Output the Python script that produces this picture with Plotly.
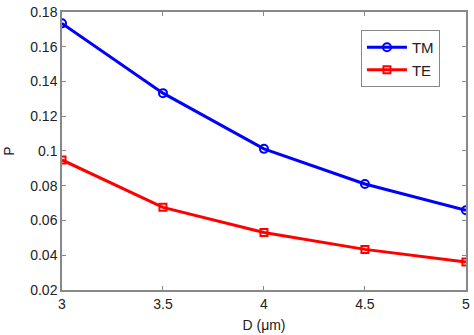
import plotly.graph_objects as go

D = [3, 3.5, 4, 4.5, 5]
TM = [0.1735, 0.1333, 0.1012, 0.0810, 0.0658]
TE = [0.0948, 0.0675, 0.0530, 0.0433, 0.0360]
xticks = [3, 3.5, 4, 4.5, 5]
yticks = [0.02, 0.04, 0.06, 0.08, 0.1, 0.12, 0.14, 0.16, 0.18]
ytext = ["0.02", "0.04", "0.06", "0.08", "0.1", "0.12", "0.14", "0.16", "0.18"]

fig = go.Figure()
fig.add_trace(go.Scatter(x=D, y=TM, name="TM", mode="lines+markers",
                         line=dict(color="#0000ff", width=3),
                         marker=dict(symbol="circle-open", size=8, color="#0000ff", line=dict(width=2))))
fig.add_trace(go.Scatter(x=D, y=TE, name="TE", mode="lines+markers",
                         line=dict(color="#ff0000", width=3),
                         marker=dict(symbol="square-open", size=7, color="#ff0000", line=dict(width=2))))

axis_common = dict(showgrid=False, zeroline=False, showline=True, linecolor="#888888", linewidth=1.5,
                   mirror="ticks", ticks="inside", ticklen=4, tickcolor="#888888",
                   tickfont=dict(family="Liberation Sans, Arial", size=14, color="#222222"))
fig.update_xaxes(range=[3, 5.0005], tickvals=xticks, ticktext=[str(v) for v in xticks],
                 title=dict(text="D (μm)", font=dict(family="Liberation Sans, Arial", size=14, color="#222222"), standoff=10),
                 **axis_common)
fig.update_yaxes(range=[0.0199, 0.18005], tickvals=yticks, ticktext=ytext,
                 title=dict(text="P", font=dict(family="Liberation Sans, Arial", size=14, color="#222222"), standoff=12),
                 **axis_common)
fig.update_layout(width=474, height=335, margin=dict(l=62, r=4, t=9, b=44),
                  paper_bgcolor="white", plot_bgcolor="white", showlegend=True,
                  legend=dict(x=0.74, y=0.935, xanchor="left", yanchor="top", bgcolor="white",
                              bordercolor="#888888", borderwidth=1, itemwidth=40, tracegroupgap=0,
                              font=dict(family="Liberation Sans, Arial", size=15, color="#222222")))
fig.write_html("out.html")
